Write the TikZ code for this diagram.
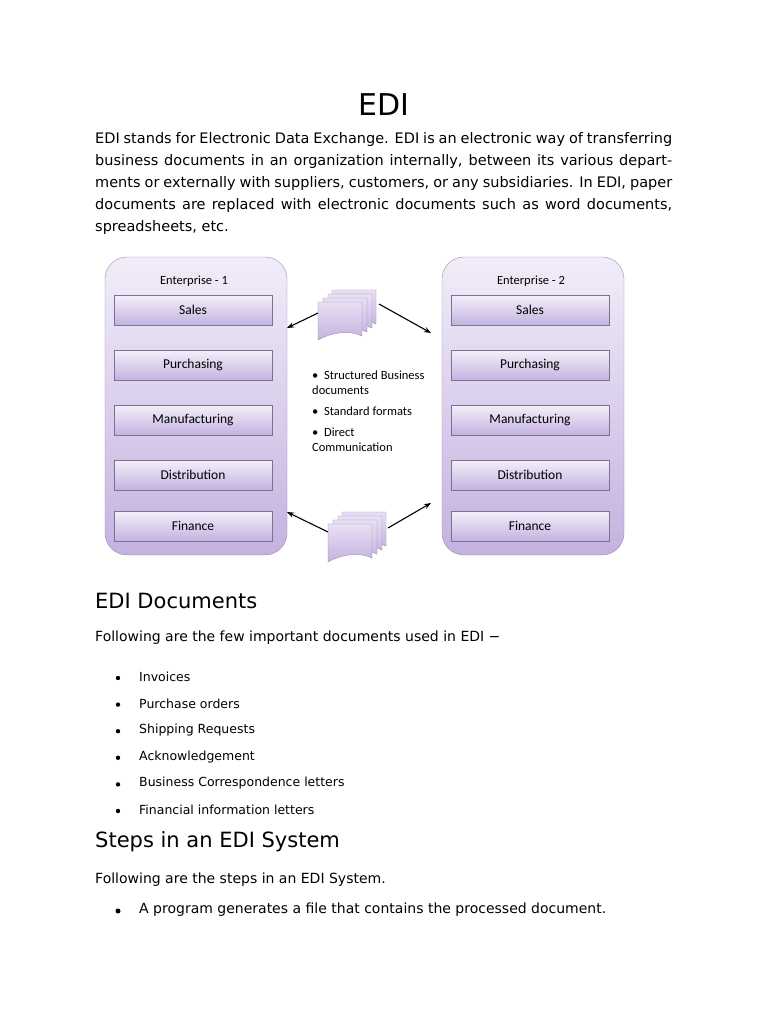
\documentclass[tikz,border=0pt]{standalone}
\usepackage{fontspec}
\setmainfont{DejaVu Sans}
\newfontfamily\carfont{Carlito}
\usetikzlibrary{arrows.meta}
\definecolor{lav}{HTML}{E8E0F4}
\definecolor{lavd}{HTML}{C4B2E0}
\definecolor{bord}{HTML}{9C8DB5}
\tikzset{
 cont/.style={draw=bord,rounded corners=22pt,top color=lav!60,bottom color=lavd,minimum width=182pt,minimum height=298pt},
 dept/.style={draw=bord!80!black,top color=lav!50,bottom color=lavd,minimum width=158pt,minimum height=30pt,font=\carfont\fontsize{13.5}{14}\selectfont},
 hdr/.style={font=\carfont\fontsize{12.5}{14}\selectfont},
 conn/.style={-{Stealth[length=7pt]},line width=1.1pt},
 body/.style={anchor=north west,inner sep=0pt,text width=577pt,align=justify,font=\fontsize{14.5}{22}\selectfont},
 bl/.style={anchor=west,inner sep=0pt,font=\fontsize{12.5}{14}\selectfont},
 h2/.style={anchor=west,inner sep=0pt,font=\fontsize{21}{24}\selectfont},
}
\newcommand\docpage[2]{\draw[bord,top color=lav,bottom color=lavd] (#1,#2) -- ++(44,0) -- ++(0,34) .. controls ++(-12,-6) and ++(14,-8) .. ++(-44,4) -- cycle;}
\begin{document}
\begin{tikzpicture}[x=1pt,y=-1pt]
\useasboundingbox[fill=white] (0,0) rectangle (768,1024);
\node[font=\fontsize{30}{34}\selectfont] (title) at (384,105) {EDI};
\node[body] (p1) at (95,132) {EDI stands for Electronic Data Exchange. EDI is an electronic way of transferring business documents in an organization internally, between its various departments or externally with suppliers, customers, or any subsidiaries. In EDI, paper documents are replaced with electronic documents such as word documents, spreadsheets, etc.};
% containers
\node[cont] (e1) at (196,406) {};
\node[cont] (e2) at (533,406) {};
\node[hdr] (h1) at (194,281) {Enterprise - 1};
\node[hdr] (h2) at (531,281) {Enterprise - 2};
\foreach \n/\t/\y in {a/Sales/310,b/Purchasing/365,c/Manufacturing/420,d/Distribution/475,e/Finance/526}{
 \node[dept] (l\n) at (193,\y) {\t};
 \node[dept] (r\n) at (530,\y) {\t};
}
% documents
\docpage{332}{290}\docpage{328}{294}\docpage{323}{298}\docpage{318}{302}
\docpage{342}{512}\docpage{338}{516}\docpage{333}{520}\docpage{328}{524}
\coordinate (t1) at (318,313); \coordinate (t2) at (379,304);
\coordinate (b1) at (328,532); \coordinate (b2) at (388,528);
\coordinate (e1t) at (287,328); \coordinate (e2t) at (431,333);
\coordinate (e1b) at (287,512); \coordinate (e2b) at (431,503);
\draw[conn] (t1) -- (e1t);
\draw[conn] (t2) -- (e2t);
\draw[conn] (b1) -- (e1b);
\draw[conn] (b2) -- (e2b);
\node[anchor=north west,inner sep=0pt,align=left,font=\carfont\fontsize{12.5}{15}\selectfont] (mid) at (312,371) {\textbullet\ \ Structured Business\\documents\\[6pt]\textbullet\ \ Standard formats\\[6pt]\textbullet\ \ Direct\\Communication};
\node[h2] (s1) at (95,601) {EDI Documents};
\node[bl,font=\fontsize{14}{16}\selectfont] (f1) at (95,638) {Following are the few important documents used in EDI −};
\foreach \t [count=\i] in {Invoices,Purchase orders,Shipping Requests,Acknowledgement,Business Correspondence letters,Financial information letters}{
 \node[bl] (b\i) at (139,{677+26.6*(\i-1)}) {\t};
 \fill (118,{678+26.6*(\i-1)}) circle (2.2pt);
}
\node[h2] (s2) at (95,842) {Steps in an EDI System};
\node[bl,font=\fontsize{14}{16}\selectfont] (f2) at (95,880) {Following are the steps in an EDI System.};
\fill (118,911) circle (2.5pt);
\node[bl,font=\fontsize{14}{16}\selectfont] (st1) at (139,910) {A program generates a file that contains the processed document.};
\end{tikzpicture}
\end{document}
